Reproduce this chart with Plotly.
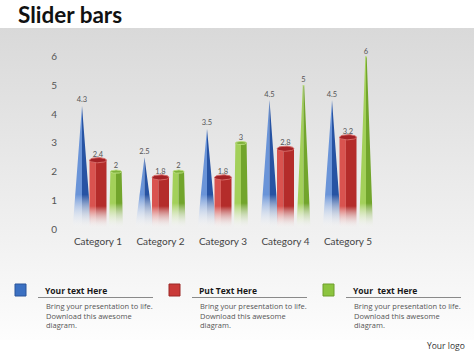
import numpy as np
import plotly.graph_objects as go

# ---------------- data ----------------
categories = ["Category 1", "Category 2", "Category 3", "Category 4", "Category 5"]
blue_values = [4.3, 2.5, 3.5, 4.5, 4.5]
red_values = [2.4, 1.8, 1.8, 2.8, 3.2]
green_values = [2, 2, 3, 5, 6]
y_ticks = [0, 1, 2, 3, 4, 5, 6]
legend_titles = ["Your text Here", "Put Text Here", "Your  text Here"]
legend_body = ["Bring your presentation to life.", "Download this awesome", "diagram."]
title_text = "Slider bars"
logo_text = "Your logo"

# ---------------- layout geometry ----------------
W, H = 474, 355
PX_X, X0PX = 62.5, 98.0      # px per category unit, px of category 1 centre
PX_Y, Y0PX = 28.67, 229.0    # px per value unit, px of value 0
x_dom = [60 / W, 1.0]
x_rng = [(60 - X0PX) / PX_X, (W - X0PX) / PX_X]
y_bot_px, y_top_px = 234, 40
y_dom = [(H - y_bot_px) / H, (H - y_top_px) / H]
y_rng = [(Y0PX - y_bot_px) / PX_Y, (Y0PX - y_top_px) / PX_Y]

xc = np.arange(len(categories), dtype=float)
BLUE_OFF, BLUE_HW = -0.256, 0.15
RED_OFF, RED_HW = 0.0, 0.136
GREEN_OFF, GREEN_HW = 0.288, 0.112


def px(x):
    return x / W


def py(y):
    return 1 - y / H


def join(polys):
    xs, ys = [], []
    for pxs, pys in polys:
        xs += list(pxs) + [pxs[0], None]
        ys += list(pys) + [pys[0], None]
    return xs, ys


def grad(color, stop):
    return dict(type="vertical", start=0, stop=stop,
                colorscale=[[0, "rgba(255,255,255,0)"], [0.5, color], [1, color]])


fig = go.Figure()

# ---------------- background gradient (subplot xy) ----------------
fig.add_trace(go.Scatter(
    x=[0, W, W, 0, 0], y=[15, 15, H - 28, H - 28, 15], mode="none", fill="toself",
    fillgradient=dict(type="vertical", start=15, stop=H - 28,
                      colorscale=[[0, "#fdfdfd"], [0.3, "#f2f2f2"], [1, "#d9d9d9"]]),
    hoverinfo="skip", showlegend=False, xaxis="x", yaxis="y"))

ax = dict(xaxis="x2", yaxis="y2", showlegend=False, hoverinfo="skip")

# ---------------- blue cones ----------------
left, right = [], []
for c, v in zip(xc + BLUE_OFF, blue_values):
    left.append(([c - BLUE_HW, c, c], [0, v, 0]))
    right.append(([c, c, c + BLUE_HW], [0, v, 0]))
for polys, col in ((left, "#6a94d8"), (right, "#2753a3")):
    xs, ys = join(polys)
    fig.add_trace(go.Scatter(x=xs, y=ys, mode="none", fill="toself",
                             fillgradient=grad(col, 2.4), **ax))

# ---------------- red cylinders ----------------
t = np.linspace(0, 2 * np.pi, 40)
RY = 0.09
lp, rp, caps = [], [], []
for c, v in zip(xc + RED_OFF, red_values):
    split = c - 0.25 * RED_HW
    lp.append(([c - RED_HW, c - RED_HW, split, split], [0, v, v, 0]))
    rp.append(([split, split, c + RED_HW, c + RED_HW], [0, v, v, 0]))
    caps.append((c + RED_HW * np.cos(t), v + RY * np.sin(t)))
for polys, col in ((lp, "#d9534f"), (rp, "#b42c2a")):
    xs, ys = join(polys)
    fig.add_trace(go.Scatter(x=xs, y=ys, mode="none", fill="toself",
                             fillgradient=grad(col, 1.6), **ax))
xs, ys = join(caps)
fig.add_trace(go.Scatter(x=xs, y=ys, mode="lines", fill="toself", fillcolor="#a32226",
                         line=dict(color="#d66a66", width=1), **ax))

# ---------------- green tapered bars ----------------
lp, rp, caps = [], [], []
for c, v in zip(xc + GREEN_OFF, green_values):
    ratio = float(np.clip(0.8 - max(0.0, v - 3) * 0.35, 0.1, 0.8))
    ht = GREEN_HW * ratio
    lp.append(([c - GREEN_HW, c - ht, c, c], [0, v, v, 0]))
    rp.append(([c, c, c + ht, c + GREEN_HW], [0, v, v, 0]))
    caps.append((c + ht * np.cos(t), v + 0.07 * ratio * np.sin(t)))
for polys, col in ((lp, "#a3d05a"), (rp, "#72a52c")):
    xs, ys = join(polys)
    fig.add_trace(go.Scatter(x=xs, y=ys, mode="none", fill="toself",
                             fillgradient=grad(col, 1.8), **ax))
xs, ys = join(caps)
fig.add_trace(go.Scatter(x=xs, y=ys, mode="lines", fill="toself", fillcolor="#7fb23a",
                         line=dict(color="#b8dc7c", width=1), **ax))

# ---------------- value labels ----------------
for off, vals in ((BLUE_OFF, blue_values), (RED_OFF, red_values), (GREEN_OFF, green_values)):
    fig.add_trace(go.Scatter(
        x=xc + off, y=np.array(vals, dtype=float) + 0.05, mode="text",
        text=[f"{v:g}" for v in vals], textposition="top center",
        textfont=dict(family="Lato", size=7.5, color="#555555"), **ax))

# ---------------- legend block ----------------
shapes, annos = [], []
sq_colors = [("#3b70c2", "#2a559a"), ("#c93a38", "#9c2826"), ("#8cc43f", "#6f9e2c")]
for i, (ttl, (fc, lc)) in enumerate(zip(legend_titles, sq_colors)):
    o = 154 * i
    shapes.append(dict(type="rect", xref="paper", yref="paper",
                       x0=px(15 + o), x1=px(26 + o), y0=py(296), y1=py(284),
                       fillcolor=fc, line=dict(color=lc, width=1)))
    shapes.append(dict(type="line", xref="paper", yref="paper",
                       x0=px(38 + o), x1=px(153 + o), y0=py(297.5), y1=py(297.5),
                       line=dict(color="#8a8a8a", width=1)))
    annos.append(dict(text=f"<b>{ttl}</b>", x=px(43 + o), y=py(290), xref="paper", yref="paper",
                      xanchor="left", yanchor="middle", showarrow=False,
                      font=dict(family="Open Sans", size=8.5, color="#1a1a1a")))
    for j, line in enumerate(legend_body):
        annos.append(dict(text=line, x=px(44 + o), y=py(306 + 9.5 * j), xref="paper", yref="paper",
                          xanchor="left", yanchor="middle", showarrow=False,
                          font=dict(family="Open Sans", size=7.5, color="#555555")))

annos.append(dict(text=f"<b>{title_text}</b>", x=px(16), y=py(15), xref="paper", yref="paper",
                  xanchor="left", yanchor="middle", showarrow=False,
                  font=dict(family="Lato", size=22.5, color="#111111")))
annos.append(dict(text=logo_text, x=px(467), y=py(345), xref="paper", yref="paper",
                  xanchor="right", yanchor="middle", showarrow=False,
                  font=dict(family="Open Sans", size=8.5, color="#333333")))

fig.update_layout(
    width=W, height=H, margin=dict(l=0, r=0, t=0, b=0),
    paper_bgcolor="white", plot_bgcolor="rgba(0,0,0,0)",
    xaxis=dict(domain=[0, 1], range=[0, W], visible=False, fixedrange=True),
    yaxis=dict(domain=[0, 1], range=[0, H], visible=False, fixedrange=True),
    xaxis2=dict(domain=x_dom, range=x_rng, anchor="y2", showgrid=False, zeroline=False,
                showline=False, tickvals=list(xc), ticktext=categories, ticks="",
                tickfont=dict(family="Lato", size=10, color="#444444")),
    yaxis2=dict(domain=y_dom, range=y_rng, anchor="x2", showgrid=False, zeroline=False,
                showline=False, tickvals=y_ticks, ticks="", ticklabelstandoff=2,
                tickfont=dict(family="Lato", size=10, color="#555555")),
    shapes=shapes, annotations=annos, showlegend=False,
)

fig.write_html("out.html", config={"displayModeBar": False},
               post_script="document.body.style.margin='0';")
